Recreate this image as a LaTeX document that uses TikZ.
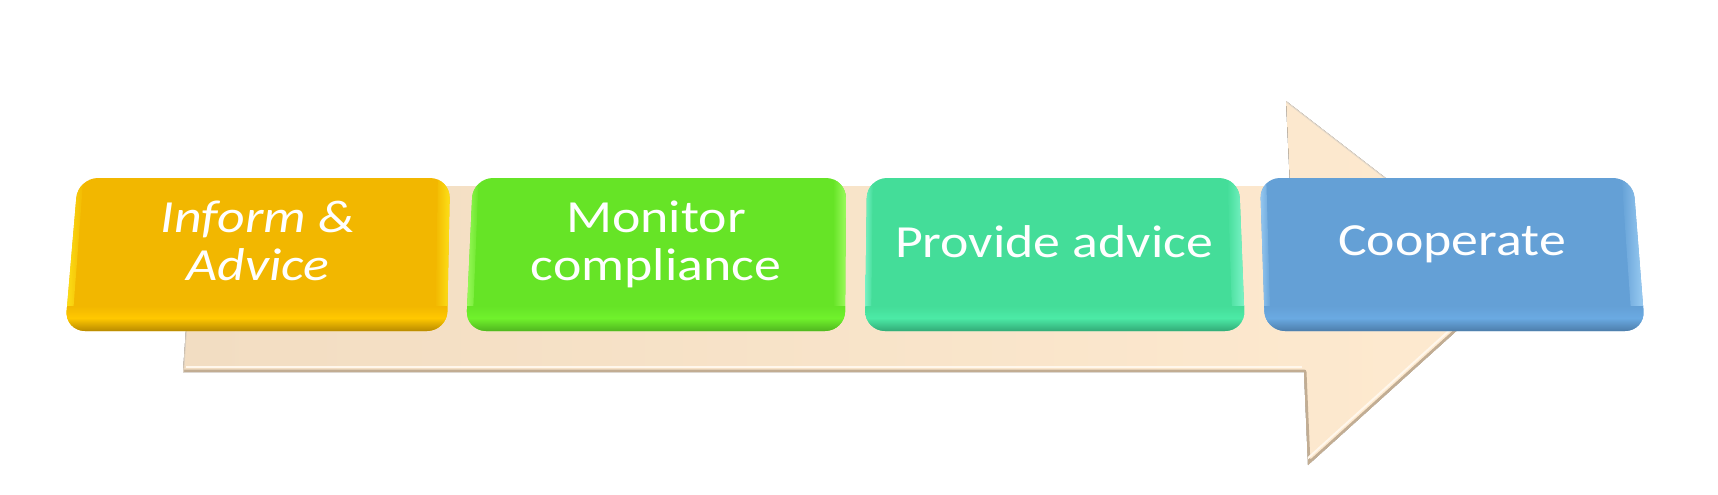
\documentclass[tikz,border=0pt]{standalone}
\usepackage{fontspec}
\setmainfont{Carlito}
\usepackage{graphicx}
\begin{document}
\begin{tikzpicture}[x=1pt,y=-1pt,
  lbl/.style={text=white, inner sep=0pt, anchor=base, font=\fontsize{46}{48.5}\selectfont},
  bevdark/.style={draw=#1, line width=5pt, line join=round},
  bevlight/.style={draw=#1, line width=2pt}]
\definecolor{bodyL}{HTML}{F2DDC2}
\definecolor{bodyR}{HTML}{FEEAD0}
\definecolor{arrdark}{HTML}{C2AD93}
\definecolor{arrlight}{HTML}{FFF7EC}
\definecolor{c1}{HTML}{F2B700}\definecolor{c1l}{HTML}{FFE91C}\definecolor{c1d}{HTML}{A87C00}\definecolor{c1m}{HTML}{FFC800}
\definecolor{c2}{HTML}{66E426}\definecolor{c2l}{HTML}{A8FF6A}\definecolor{c2d}{HTML}{48A81C}\definecolor{c2m}{HTML}{70F22C}
\definecolor{c3}{HTML}{44DD99}\definecolor{c3l}{HTML}{88F8D2}\definecolor{c3d}{HTML}{2C9C6C}\definecolor{c3m}{HTML}{4CEAA6}
\definecolor{c4}{HTML}{64A0D6}\definecolor{c4l}{HTML}{A4D4F8}\definecolor{c4d}{HTML}{46739E}\definecolor{c4m}{HTML}{6AAAE2}
\useasboundingbox (0,0) rectangle (1718,495);
\fill[white] (0,0) rectangle (1718,495);
% ---- big arrow ----
\coordinate (a1) at (196,186);
\coordinate (a2) at (1290,186);
\coordinate (a3) at (1286,101);
\coordinate (a4) at (1515,278);
\coordinate (a5) at (1308,465);
\coordinate (a6) at (1304,372);
\coordinate (a7) at (183,372);
\fill[left color=bodyL, right color=bodyR] (a1)--(a2)--(a3)--(a4)--(a5)--(a6)--(a7)--cycle;
\begin{scope}
  \clip (a1)--(a2)--(a3)--(a4)--(a5)--(a6)--(a7)--cycle;
  \draw[bevdark=arrdark] (a7)--(a6)--(a5)--(a4);
  \draw[bevlight=arrlight] ([shift={(3,-5)}]a7)--([shift={(-2,-5)}]a6);
  \draw[bevlight=arrlight] ([shift={(-2.7,-4.5)}]a5)--([shift={(-2.7,-4.5)}]a4);
  \draw[draw=arrdark!60, line width=2pt] (a7)--(a1);
  \draw[draw=arrdark!50, line width=2pt] (a3)--(a4);
\end{scope}
% ---- bevelled boxes ----
\newcommand{\bevbox}[8]{%
  \fill[#5, rounded corners=20pt] (#3,178)--(#4,178)--(#2,331)--(#1,331)--cycle;
  \begin{scope}
    \clip[rounded corners=20pt] (#3,178)--(#4,178)--(#2,331)--(#1,331)--cycle;
    \shade[left color=#5, right color=#6] ({#4-12},170)--({#4+3},170)--({#2+3},340)--({#2-12},340)--cycle;
    \shade[left color=#6, right color=#5] ({#3-3},170)--({#3+6},170)--({#1+6},340)--({#1-3},340)--cycle;
    \shade[top color=#5, bottom color=#8] ({#1-5},306) rectangle ({#2+5},318);
    \shade[top color=#8, bottom color=#7] ({#1-5},318) rectangle ({#2+5},334);
  \end{scope}}
\bevbox{65}{447}{78}{450}{c1}{c1l}{c1d}{c1m}
\bevbox{466}{845}{473}{846}{c2}{c2l}{c2d}{c2m}
\bevbox{865}{1245}{867}{1239}{c3}{c3l}{c3d}{c3m}
\bevbox{1265}{1645}{1260}{1633}{c4}{c4l}{c4d}{c4m}
% ---- labels ----
\node[lbl] (t1) at (258,232) {\itshape\scalebox{1.17}[1]{\begin{tabular}[t]{@{}c@{}}Inform \&\\Advice\end{tabular}}};
\node[lbl] (t2) at (656,232) {\scalebox{1.17}[1]{\begin{tabular}[t]{@{}c@{}}Monitor\\compliance\end{tabular}}};
\node[lbl] (t3) at (1054,257) {\scalebox{1.17}[1]{Provide advice}};
\node[lbl] (t4) at (1452,255.5) {\scalebox{1.17}[1]{Cooperate}};
\end{tikzpicture}
\end{document}
